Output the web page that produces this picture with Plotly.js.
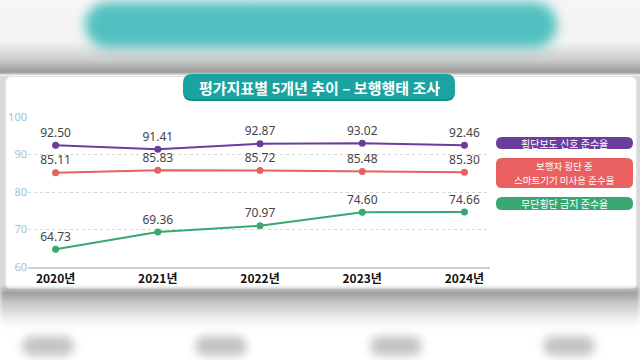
<!DOCTYPE html>
<html>
<head>
<meta charset="utf-8">
<script src="https://cdn.plot.ly/plotly-3.0.1.min.js"></script>
<style>
  html, body { margin: 0; padding: 0; background: #ffffff; }
  #wrap { position: relative; width: 640px; height: 360px; overflow: hidden; background: #ffffff; }
  .bg { position: absolute; }
  #plot { position: absolute; left: 0; top: 0; width: 640px; height: 360px; }
</style>
</head>
<body>
<div id="wrap">
  <div class="bg" style="left:0;top:0;width:640px;height:76px;background:linear-gradient(to bottom,#f6f6f6 0%,#f3f3f3 55%,#c9c9c9 80%,#9a9a9a 95%,#ffffff 100%);"></div>
  <div class="bg" style="left:85px;top:2px;width:472px;height:46px;border-radius:23px;background:#52c0c0;filter:blur(6px);"></div>
  <div class="bg" style="left:0;top:76px;width:640px;height:214px;background:#d9d9d9;"></div>
  <div class="bg" style="left:5px;top:76px;width:630px;height:212px;background:#ffffff;border:1px solid #e2e2e2;border-radius:6px;"></div>
  <div class="bg" style="left:0;top:289px;width:640px;height:40px;background:linear-gradient(to bottom,#8e8e8e 0%,#c8c8c8 35%,#f4f4f4 80%,#ffffff 100%);filter:blur(2px);"></div>
  <div class="bg" style="left:22px;top:336px;width:52px;height:20px;border-radius:10px;background:#c4c4c4;filter:blur(5px);"></div>
  <div class="bg" style="left:195px;top:336px;width:52px;height:20px;border-radius:10px;background:#c4c4c4;filter:blur(5px);"></div>
  <div class="bg" style="left:370px;top:336px;width:52px;height:20px;border-radius:10px;background:#c4c4c4;filter:blur(5px);"></div>
  <div class="bg" style="left:543px;top:336px;width:52px;height:20px;border-radius:10px;background:#c4c4c4;filter:blur(5px);"></div>
  <div id="plot"></div>
</div>
<script>
const years = ['2020년', '2021년', '2022년', '2023년', '2024년'];
const signalCompliance = [92.50, 91.41, 92.87, 93.02, 92.46];
const smartDeviceCompliance = [85.11, 85.83, 85.72, 85.48, 85.30];
const jaywalkCompliance = [64.73, 69.36, 70.97, 74.60, 74.66];
const seriesNames = ['횡단보도 신호 준수율', '보행자 횡단 중 스마트기기 미사용 준수율', '무단횡단 금지 준수율'];
const legendLines = [['횡단보도 신호 준수율'], ['보행자 횡단 중', '스마트기기 미사용 준수율'], ['무단횡단 금지 준수율']];
const seriesColors = ['#6a3d9c', '#e8605f', '#37a86f'];
const yTicks = [60, 70, 80, 90, 100];
const chartTitle = '평가지표별 5개년 추이 – 보행행태 조사';

const W = 640, H = 360;
const M = {l: 28, r: 150, t: 117, b: 93};
const PW = W - M.l - M.r, PH = H - M.t - M.b;
function px2x(px) { return (px - M.l) / PW; }
function py2y(py) { return (H - M.b - py) / PH; }
function roundRect(x0, y0, x1, y1, r) {
  const P = (x, y) => px2x(x).toFixed(5) + ',' + py2y(y).toFixed(5);
  return 'M' + P(x0 + r, y0) + ' L' + P(x1 - r, y0) + ' Q' + P(x1, y0) + ' ' + P(x1, y0 + r) +
    ' L' + P(x1, y1 - r) + ' Q' + P(x1, y1) + ' ' + P(x1 - r, y1) +
    ' L' + P(x0 + r, y1) + ' Q' + P(x0, y1) + ' ' + P(x0, y1 - r) +
    ' L' + P(x0, y0 + r) + ' Q' + P(x0, y0) + ' ' + P(x0 + r, y0) + ' Z';
}

const allSeries = [signalCompliance, smartDeviceCompliance, jaywalkCompliance];
const traces = allSeries.map((vals, i) => ({
  x: years,
  y: vals,
  type: 'scatter',
  mode: 'lines+markers+text',
  name: seriesNames[i],
  line: {color: seriesColors[i], width: 2},
  marker: {color: seriesColors[i], size: 7},
  text: vals.map(v => v.toFixed(2)),
  textposition: 'top center',
  textfont: {family: 'Noto Sans, sans-serif', size: 12, color: '#454545'},
  cliponaxis: false,
  showlegend: false,
  hoverinfo: 'skip'
}));

const legendBoxes = [
  {y0: 137, y1: 149},
  {y0: 158, y1: 188},
  {y0: 197, y1: 210}
];

const shapes = [
  {type: 'path', xref: 'paper', yref: 'paper', path: roundRect(183, 76, 455, 101, 9), fillcolor: '#0f8f8d', line: {width: 0}, layer: 'above'},
  {type: 'path', xref: 'paper', yref: 'paper', path: roundRect(183, 74, 455, 99, 9), fillcolor: '#1aa3a1', line: {width: 0}, layer: 'above'}
];
const annotations = [
  {xref: 'paper', yref: 'paper', x: px2x(319), y: py2y(87), text: '<b>' + chartTitle + '</b>', showarrow: false,
   font: {family: 'Noto Sans CJK KR, sans-serif', size: 15, color: '#ffffff'}, xanchor: 'center', yanchor: 'middle'}
];
legendBoxes.forEach((b, i) => {
  shapes.push({type: 'path', xref: 'paper', yref: 'paper', path: roundRect(496, b.y0, 633, b.y1, 6),
    fillcolor: seriesColors[i], line: {width: 0}, layer: 'above'});
  const lines = legendLines[i];
  const mid = (b.y0 + b.y1) / 2;
  const step = 14.5;
  lines.forEach((ln, k) => {
    const cy = mid + (k - (lines.length - 1) / 2) * step;
    annotations.push({xref: 'paper', yref: 'paper', x: px2x(564.5), y: py2y(cy),
      text: ln, showarrow: false, xanchor: 'center', yanchor: 'middle', align: 'center', borderpad: 0,
      font: {family: 'Noto Sans CJK KR, sans-serif', size: lines.length > 1 ? 9.5 : 10, color: '#ffffff'}});
  });
});

const layout = {
  width: W, height: H,
  margin: M,
  paper_bgcolor: 'rgba(0,0,0,0)',
  plot_bgcolor: 'rgba(0,0,0,0)',
  showlegend: false,
  xaxis: {
    type: 'category',
    range: [-0.27, 4.25],
    showgrid: false,
    zeroline: false,
    showline: true,
    linecolor: '#cfcfcf',
    linewidth: 1.5,
    ticks: '',
    tickfont: {family: 'Noto Sans CJK KR, sans-serif', size: 12, color: '#111111', weight: 'bold'},
    fixedrange: true
  },
  yaxis: {
    range: [60, 100],
    tickvals: yTicks,
    ticktext: yTicks.map(String),
    showgrid: true,
    gridcolor: '#d6d6d6',
    griddash: 'dot',
    gridwidth: 1,
    zeroline: false,
    showline: false,
    ticks: '',
    tickfont: {family: 'Noto Sans, sans-serif', size: 11, color: '#a3c3d6'},
    fixedrange: true
  },
  shapes: shapes,
  annotations: annotations
};

Plotly.newPlot('plot', traces, layout, {displayModeBar: false, staticPlot: true});
</script>
</body>
</html>
